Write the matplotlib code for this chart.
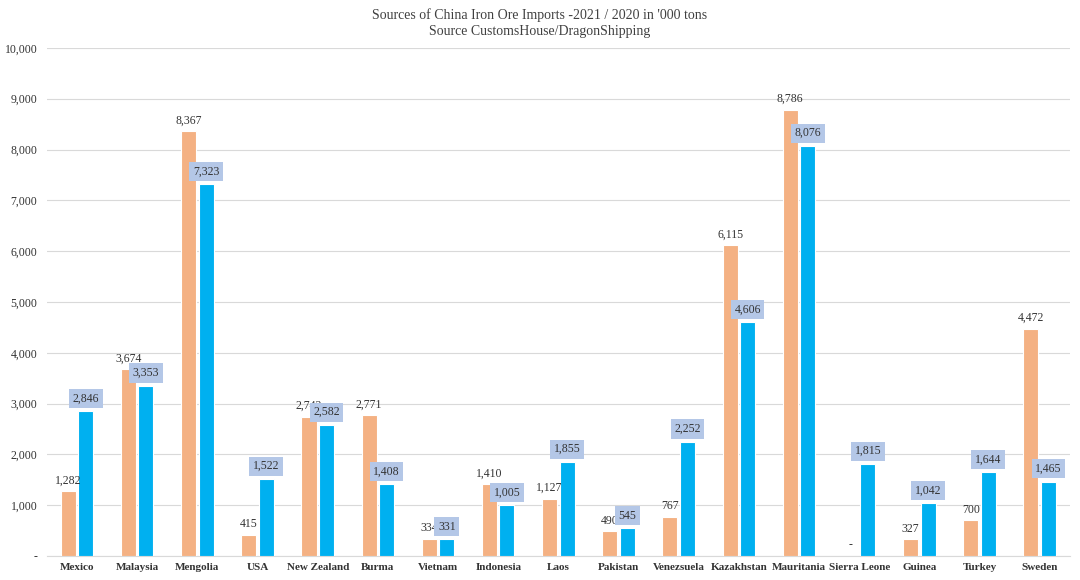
import matplotlib
matplotlib.use("Agg")
import matplotlib.pyplot as plt
import numpy as np

countries = ["Mexico", "Malaysia", "Mengolia", "USA", "New Zealand", "Burma", "Vietnam",
             "Indonesia", "Laos", "Pakistan", "Venezsuela", "Kazakhstan", "Mauritania",
             "Sierra Leone", "Guinea", "Turkey", "Sweden"]
v2021 = [1282, 3674, 8367, 415, 2742, 2771, 334, 1410, 1127, 490, 767, 6115, 8786, 0, 327, 700, 4472]
v2020 = [2846, 3353, 7323, 1522, 2582, 1408, 331, 1005, 1855, 545, 2252, 4606, 8076, 1815, 1042, 1644, 1465]
yticks = list(range(0, 10001, 1000))

plt.rcParams['font.family'] = ['Liberation Serif', 'DejaVu Serif']

fig = plt.figure(figsize=(10.8, 5.8), dpi=100)
ax = fig.add_axes([0.0435, 0.0414, 0.947, 0.876])

x = np.arange(len(countries))
w = 0.25
orange = "#F4B183"
blue = "#00B0F0"
ax.bar(x - w/2 - 0.02, v2021, w, color=orange, edgecolor="white", linewidth=0.8, zorder=3)
ax.bar(x + w/2 + 0.02, v2020, w, color=blue, edgecolor="white", linewidth=0.8, zorder=3)

def fmt(v):
    return "-" if v == 0 else f"{v:,}"

for xi, v in zip(x - w/2 - 0.02, v2021):
    ax.text(xi, v + 90, fmt(v), ha="center", va="bottom", fontsize=8.5, color="#333333", zorder=4)
for xi, v in zip(x + w/2 + 0.02, v2020):
    ax.text(xi, v + 130, fmt(v), ha="center", va="bottom", fontsize=8.5, color="#333333", zorder=5,
            bbox=dict(boxstyle="square,pad=0.3", fc="#B4C7E7", ec="none"))

ax.set_xlim(-0.5, len(countries) - 0.5)
ax.set_ylim(0, 10000)
ax.set_yticks(yticks)
ax.set_yticklabels(["-" if t == 0 else f"{t:,}" for t in yticks], fontsize=8.5, color="#333333")
ax.set_xticks(x)
ax.set_xticklabels(countries, fontsize=8, fontweight="bold", color="#333333")
ax.tick_params(axis="x", length=0, pad=5)
ax.tick_params(axis="y", length=0, pad=7)
ax.grid(axis="y", color="#D9D9D9", linewidth=0.8, zorder=0)
for s in ["top", "right", "left"]:
    ax.spines[s].set_visible(False)
ax.spines["bottom"].set_color("#D9D9D9")

fig.text(0.5, 0.985, "Sources of China Iron Ore Imports -2021 / 2020 in '000 tons\nSource CustomsHouse/DragonShipping",
         ha="center", va="top", fontsize=10, color="#404040", linespacing=1.3)

fig.savefig("out.png", dpi=100)
